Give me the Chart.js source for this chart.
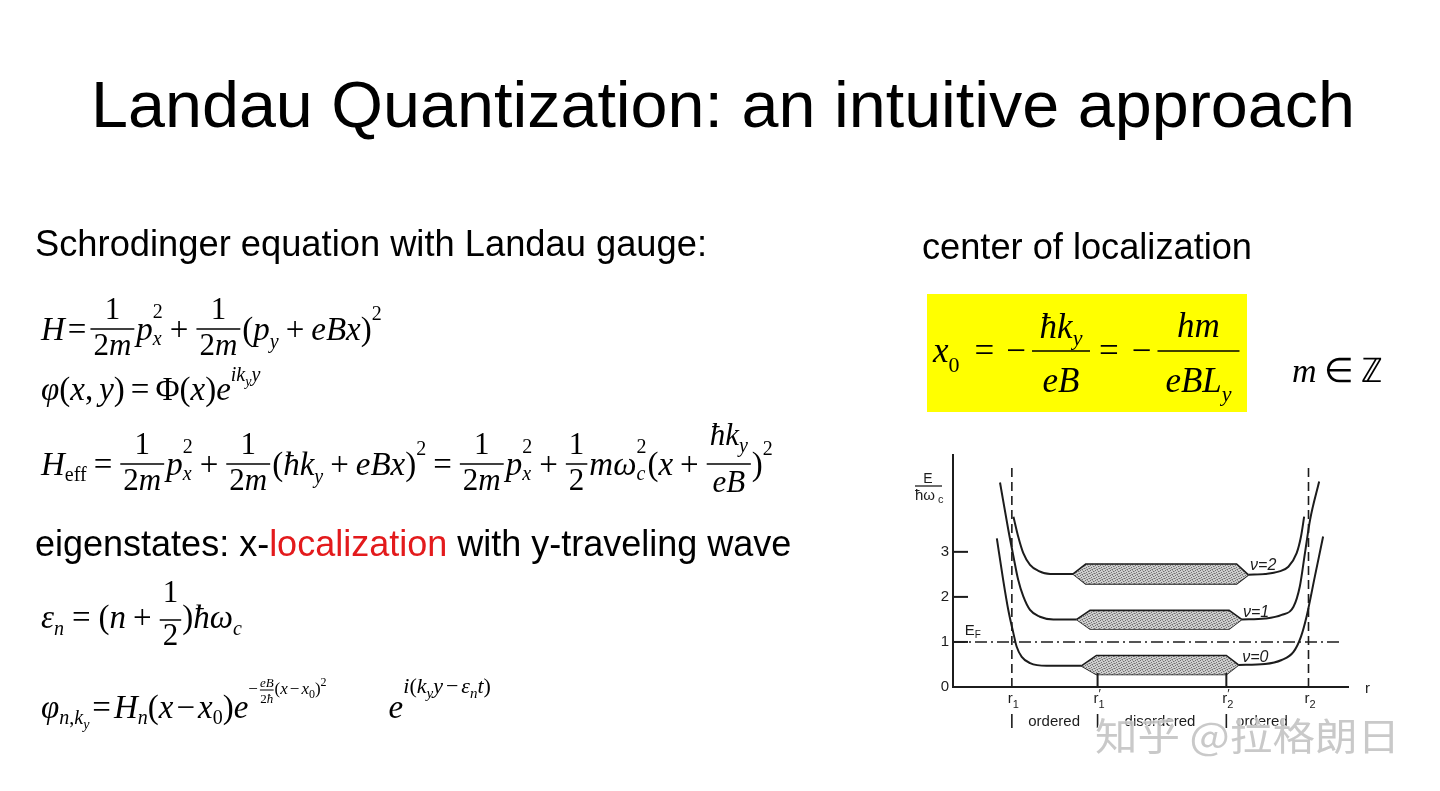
<!DOCTYPE html>
<html><head><meta charset="utf-8">
<script src="https://cdn.jsdelivr.net/npm/chart.js@4.4.1/dist/chart.umd.min.js"></script>
<style>
html,body{margin:0;padding:0;background:#fff;width:1440px;height:791px;overflow:hidden;}
#wrap{position:absolute;left:900px;top:440px;width:500px;height:320px;}
#ov{position:absolute;left:0;top:0;z-index:2;pointer-events:none;}
</style></head><body>
<div id="wrap"><canvas id="c" width="500" height="320"></canvas></div>
<svg id="ov" width="1440" height="791" xmlns="http://www.w3.org/2000/svg"></svg>
<script>
// ---------------- chart data (x in arbitrary r-units 0..100, E in units of hbar*omega_c) ----------------
const yTicks = [0, 1, 2, 3];
const nu0LeftX = [11.1, 12.7, 14.0, 15.3, 16.1, 17.4, 19.5, 23.7, 32.5];
const nu0LeftE = [3.30, 2.38, 1.71, 1.19, 0.90, 0.67, 0.53, 0.47, 0.47];
const nu0RightX = [72.3, 79.0, 83.2, 86.2, 88.1, 89.5, 91.6, 93.7];
const nu0RightE = [0.49, 0.51, 0.60, 0.78, 1.12, 1.56, 2.45, 3.34];
const nu0BandX = [32.5, 36.3, 69.2, 72.3];
const nu0BandTop = [0.47, 0.70, 0.70, 0.49];
const nu0BandBottom = [0.47, 0.28, 0.28, 0.49];

const nu1LeftX = [11.9, 14.0, 15.3, 16.5, 17.8, 19.5, 22.0, 25.4, 31.3];
const nu1LeftE = [4.54, 3.49, 2.90, 2.38, 2.01, 1.71, 1.56, 1.50, 1.50];
const nu1RightX = [73.1, 79.0, 83.2, 86.2, 87.8, 89.1, 90.4, 92.7];
const nu1RightE = [1.50, 1.52, 1.60, 1.78, 2.23, 2.97, 3.71, 4.56];
const nu1BandX = [31.3, 34.7, 69.9, 73.1];
const nu1BandTop = [1.50, 1.70, 1.70, 1.50];
const nu1BandBottom = [1.50, 1.29, 1.29, 1.50];

const nu2LeftX = [15.3, 16.5, 17.8, 19.5, 21.6, 24.6, 30.4];
const nu2LeftE = [3.78, 3.34, 2.97, 2.71, 2.58, 2.51, 2.51];
const nu2RightX = [74.8, 79.0, 82.4, 84.9, 87.0, 88.1, 88.9];
const nu2RightE = [2.49, 2.51, 2.56, 2.67, 2.97, 3.34, 3.78];
const nu2BandX = [30.4, 33.6, 71.8, 74.8];
const nu2BandTop = [2.51, 2.73, 2.73, 2.49];
const nu2BandBottom = [2.51, 2.29, 2.29, 2.49];

const fermiE = 1;
const fermiX = [0, 98.7];
const edgeX = [14.9, 90.0];          // r1, r2 dashed lines
const edgeTopE = 4.93;
const rPos = [14.9, 36.6, 69.2, 90.0];
const rSub = ['1', '1', '2', '2'];
const rPrime = [false, true, true, false];
const nuLabelX = [73.2, 73.4, 75.2];
const nuLabelE = [0.56, 1.56, 2.60];
const nuLabelText = ['ν=0', 'ν=1', 'ν=2'];
const regionX = [25.6, 52.4, 78.2];
const regionText = ['ordered', 'disordered', 'ordered'];

// ---------------- chart ----------------
const INK = '#1c1c1c';
const SANS = '"Liberation Sans", Arial, sans-serif';
const pts = (xs, ys) => xs.map((x, i) => ({x, y: ys[i]}));

function stipple() {
  const n = 5;
  const c = document.createElement('canvas'); c.width = n; c.height = n;
  const g = c.getContext('2d');
  g.fillStyle = '#cfcfcf'; g.fillRect(0, 0, n, n);
  g.fillStyle = '#6e6e6e';
  [[0, 0], [3, 1], [1, 2], [4, 3], [2, 4]].forEach(([a, b]) => g.fillRect(a, b, 1, 1));
  g.fillStyle = '#a4a4a4';
  [[2, 0], [0, 3], [4, 1], [1, 4], [3, 3]].forEach(([a, b]) => g.fillRect(a, b, 1, 1));
  return g.createPattern(c, 'repeat');
}
const pat = stipple();

const curve = (d) => ({data: d, showLine: true, borderColor: INK, borderWidth: 2, pointRadius: 0,
  cubicInterpolationMode: 'monotone', fill: false});
const bandUp = (d) => ({data: d, showLine: true, borderColor: INK, borderWidth: 1.6, pointRadius: 0,
  tension: 0, fill: '+1', backgroundColor: pat});
const bandLo = (d) => ({data: d, showLine: true, borderColor: INK, borderWidth: 1.6, pointRadius: 0,
  tension: 0, fill: false});

const datasets = [
  {data: pts([edgeX[0], edgeX[0]], [0, edgeTopE]), showLine: true, borderColor: INK, borderWidth: 1.6, borderDash: [9, 5], pointRadius: 0, fill: false},
  {data: pts([edgeX[1], edgeX[1]], [0, edgeTopE]), showLine: true, borderColor: INK, borderWidth: 1.6, borderDash: [9, 5], pointRadius: 0, fill: false},
  {data: pts(fermiX, [fermiE, fermiE]), showLine: true, borderColor: INK, borderWidth: 1.6, borderDash: [12, 4, 2, 4], pointRadius: 0, fill: false},
  curve(pts(nu0LeftX, nu0LeftE)), curve(pts(nu0RightX, nu0RightE)),
  curve(pts(nu1LeftX, nu1LeftE)), curve(pts(nu1RightX, nu1RightE)),
  curve(pts(nu2LeftX, nu2LeftE)), curve(pts(nu2RightX, nu2RightE)),
  bandUp(pts(nu0BandX, nu0BandTop)), bandLo(pts(nu0BandX, nu0BandBottom)),
  bandUp(pts(nu1BandX, nu1BandTop)), bandLo(pts(nu1BandX, nu1BandBottom)),
  bandUp(pts(nu2BandX, nu2BandTop)), bandLo(pts(nu2BandX, nu2BandBottom)),
];

const extras = {
  id: 'extras',
  afterDatasetsDraw(chart) {
    const {ctx, chartArea: a, scales: {x, y}} = chart;
    const ln = (x1, y1, x2, y2) => { ctx.beginPath(); ctx.moveTo(x1, y1); ctx.lineTo(x2, y2); ctx.stroke(); };
    ctx.save();
    ctx.strokeStyle = INK; ctx.fillStyle = INK; ctx.lineWidth = 2;
    yTicks.forEach(v => { if (v > 0) { const py = y.getPixelForValue(v); ln(a.left, py, a.left + 15, py); } });
    rPos.forEach((v, k) => { if (rPrime[k]) { const px = x.getPixelForValue(v); ln(px, a.bottom, px, a.bottom - 14); } });
    ctx.lineWidth = 1.6;
    rPos.forEach(v => { const px = x.getPixelForValue(v); if (v < 80) ln(px, a.bottom + 27, px, a.bottom + 41); });
    ctx.textBaseline = 'alphabetic';
    // r labels
    rPos.forEach((v, k) => {
      const px = x.getPixelForValue(v);
      ctx.font = '15px ' + SANS; const rw = ctx.measureText('r').width;
      ctx.fillText('r', px - rw + 1, a.bottom + 16);
      ctx.font = '11px ' + SANS; ctx.fillText(rSub[k], px + 1, a.bottom + 21);
      if (rPrime[k]) { ctx.font = '13px ' + SANS; ctx.fillText('′', px + 1, a.bottom + 11); }
    });
    ctx.font = '15px ' + SANS;
    ctx.fillText('r', a.right + 17, a.bottom + 6);
    // region labels
    ctx.textAlign = 'center';
    regionText.forEach((t, k) => ctx.fillText(t, x.getPixelForValue(regionX[k]), a.bottom + 39));
    // y title E / hbar omega_c
    const cx = a.left - 25;
    ctx.font = '14px ' + SANS; ctx.fillText('E', cx, a.top + 28);
    ctx.lineWidth = 1.3; ln(a.left - 38, a.top + 31, a.left - 11, a.top + 31);
    ctx.textAlign = 'left';
    ctx.font = '15px ' + SANS; ctx.fillText('ħω', a.left - 38, a.top + 45);
    ctx.font = '11px ' + SANS; ctx.fillText('c', a.left - 15, a.top + 48);
    // E_F
    const fx = x.getPixelForValue(3.0), fy = y.getPixelForValue(fermiE);
    ctx.font = '15px ' + SANS; ctx.fillText('E', fx, fy - 7);
    ctx.font = '10px ' + SANS; ctx.fillText('F', fx + 10, fy - 4);
    // nu labels
    ctx.font = 'italic 16px ' + SANS;
    nuLabelText.forEach((t, k) => ctx.fillText(t, x.getPixelForValue(nuLabelX[k]), y.getPixelForValue(nuLabelE[k])));
    ctx.restore();
  }
};

new Chart(document.getElementById('c'), {
  type: 'scatter',
  data: {datasets},
  options: {
    responsive: false, animation: false,
    layout: {padding: {left: 0, right: 52, top: 15, bottom: 0}},
    plugins: {legend: {display: false}, tooltip: {enabled: false}},
    scales: {
      x: {type: 'linear', min: 0, max: 100, ticks: {display: false},
          grid: {display: false, drawTicks: false}, border: {display: true, color: INK, width: 2},
          afterFit: s => { s.height = 73; }},
      y: {type: 'linear', min: 0, max: 5.15,
          ticks: {color: INK, font: {family: 'Liberation Sans', size: 15}, padding: 4},
          grid: {display: false, drawTicks: false}, border: {display: true, color: INK, width: 2},
          afterBuildTicks: s => { s.ticks = yTicks.map(v => ({value: v})); },
          afterFit: s => { s.width = 53; }}
    }
  },
  plugins: [extras]
});

// ---------------- slide text & equations (SVG text) ----------------
const NS = 'http://www.w3.org/2000/svg';
const svg = document.getElementById('ov');
const SERIF = '"Liberation Serif", "Times New Roman", serif';
const mc = document.createElement('canvas').getContext('2d');
function fnt(s, it, fam) { return (it ? 'italic ' : '') + s + 'px ' + fam; }
function measure(t, s, it, fam) { mc.font = fnt(s, it, fam); return mc.measureText(t).width; }
function txt(par, x, y, t, s, opt = {}) {
  const e = document.createElementNS(NS, 'text');
  e.setAttribute('x', x); e.setAttribute('y', y);
  e.setAttribute('font-size', s); e.setAttribute('font-family', opt.fam || SERIF);
  if (opt.it) e.setAttribute('font-style', 'italic');
  e.setAttribute('fill', opt.fill || '#000');
  if (opt.len) { e.setAttribute('textLength', opt.len); e.setAttribute('lengthAdjust', 'spacingAndGlyphs'); }
  e.textContent = t; par.appendChild(e); return e;
}
const M = 33, F = 31, S = 20, T = 14;
const I = (t, s = M) => ({t, i: 1, s});
const R = (t, s = M) => ({t, i: 0, s});
const FR = (n, d, o = {}) => Object.assign({f: 1, n, d, nd: -21, dd: 15, ax: 11, pad: 4, lw: 1.5}, o);
const SB = (g, dy = 7) => ({g, dy});
const SP = (g, dy = -20) => ({g, dy});
const ST = (b, p, bdy = 5, pdy = -22) => ({st: 1, b, p, bdy, pdy});

function lay(par, toks, x, base) {
  for (const k of toks) {
    if (typeof k === 'number') { x += k; continue; }
    if (k.t !== undefined) {
      if (par) txt(par, x, base, k.t, k.s, {it: k.i});
      x += measure(k.t, k.s, k.i, SERIF); continue;
    }
    if (k.g) { x = lay(par, k.g, x, base + k.dy); continue; }
    if (k.st) {
      const wb = lay(null, k.b, 0, 0), wp = lay(null, k.p, 0, 0);
      if (par) { lay(par, k.b, x, base + k.bdy); lay(par, k.p, x, base + k.pdy); }
      x += Math.max(wb, wp); continue;
    }
    if (k.f) {
      const wn = lay(null, k.n, 0, 0), wd = lay(null, k.d, 0, 0);
      const W = k.W || (Math.max(wn, wd) + 2 * k.pad);
      if (par) {
        lay(par, k.n, x + (W - wn) / 2, base + k.nd);
        lay(par, k.d, x + (W - wd) / 2, base + k.dd);
        const l = document.createElementNS(NS, 'line');
        l.setAttribute('x1', x + 1); l.setAttribute('x2', x + W - 1);
        l.setAttribute('y1', base - k.ax); l.setAttribute('y2', base - k.ax);
        l.setAttribute('stroke', '#000'); l.setAttribute('stroke-width', k.lw);
        par.appendChild(l);
      }
      x += W; continue;
    }
  }
  return x;
}
function eq(toks, x, base) { const g = document.createElementNS(NS, 'g'); svg.appendChild(g); lay(g, toks, x, base); return g; }

// Title and prose
txt(svg, 91, 127, 'Landau Quantization: an intuitive approach', 65, {fam: SANS, len: 1264});
txt(svg, 35, 256, 'Schrodinger equation with Landau gauge:', 36, {fam: SANS, len: 672});
txt(svg, 922, 259, 'center of localization', 36, {fam: SANS, len: 330});
{
  const e = txt(svg, 35, 556, '', 36, {fam: SANS});
  [['eigenstates: x-', '#000'], ['localization', '#e31a1c'], [' with y-traveling wave', '#000']].forEach(([s, c]) => {
    const ts = document.createElementNS(NS, 'tspan'); ts.setAttribute('fill', c); ts.textContent = s; e.appendChild(ts);
  });
}

// yellow box
{
  const r = document.createElementNS(NS, 'rect');
  r.setAttribute('x', 927); r.setAttribute('y', 294); r.setAttribute('width', 320); r.setAttribute('height', 118);
  r.setAttribute('fill', '#ffff00'); svg.insertBefore(r, svg.firstChild);
}

const PG = 7;  // gap around +
const half2m = () => FR([R('1', F)], [R('2', F), I('m', F)]);
// Eq1
eq([I('H'), 3, R('='), 3, half2m(), 1, I('p'), ST([I('x', S)], [R('2', S)]), PG, R('+'), PG, half2m(), 1,
    R('('), I('p'), SB([I('y', S)], 8), PG, R('+'), PG, I('eBx'), R(')'), SP([R('2', S)], -20)], 41, 340);
// Eq2
eq([I('φ'), R('('), I('x'), R(','), 6, I('y'), R(')'), 6, R('='), 6, R('Φ'), R('('), I('x'), R(')'), I('e'),
    SP([I('i', S), I('k', S), SB([I('y', T)], 5), I('y', S)], -19)], 41, 400);
// Eq3
eq([I('H'), SB([R('eff', S)], 6), 7, R('='), 7, half2m(), 1, I('p'), ST([I('x', S)], [R('2', S)]), PG, R('+'), PG, half2m(), 1,
    R('('), I('ħ'), I('k'), SB([I('y', S)], 8), PG, R('+'), PG, I('eBx'), R(')'), SP([R('2', S)], -20), 7, R('='), 7,
    half2m(), 1, I('p'), ST([I('x', S)], [R('2', S)]), PG, R('+'), PG, FR([R('1', F)], [R('2', F)]), 1,
    I('m'), I('ω'), ST([I('c', S)], [R('2', S)]), 1, R('('), I('x'), PG, R('+'), PG,
    FR([I('ħ', F), I('k', F), SB([I('y', S)], 7)], [I('eB', F)], {nd: -30, dd: 17}), R(')'), SP([R('2', S)], -20)], 41, 475);
// Eq4
eq([I('ε'), SB([I('n', S)], 7), 8, R('='), 8, R('('), I('n'), PG, R('+'), PG,
    FR([R('1', F)], [R('2', F)], {nd: -26, dd: 17, ax: 8}), R(')'), I('ħ'), I('ω'), SB([I('c', S)], 7)], 41, 628);
// Eq5
eq([I('φ'), SB([I('n', S), R(',', S), I('k', S), SB([I('y', T)], 5)], 6), 3, R('='), 3, I('H'), SB([I('n', S)], 6),
    R('('), I('x'), 3, R('−'), 3, I('x'), SB([R('0', S)], 6), R(')'), I('e'),
    SP([R('−', 17), 1, FR([I('eB', 13)], [R('2', 13), I('ħ', 13)], {nd: -7, dd: 9, ax: 4, pad: 1, lw: 1}),
        R('(', 17), I('x', 17), 2, R('−', 17), 2, I('x', 17), SB([R('0', 12)], 4), R(')', 17), SP([R('2', 12)], -8)], -24),
    62, I('e'),
    SP([I('i', 22), R('(', 22), I('k', 22), SB([I('y', 15)], 5), I('y', 22), 3, R('−', 22), 3, I('ε', 22), SB([I('n', 15)], 5),
        I('t', 22), R(')', 22)], -25)], 41, 718);
// Box equation
eq([I('x', 35), SB([R('0', 22)], 10), 15, R('=', 35), 12, R('−', 35), 5,
    FR([I('ħ', 35), I('k', 35), SB([I('y', 22)], 7)], [I('eB', 35)], {nd: -24, dd: 30, ax: 11, W: 60}), 8,
    R('=', 35), 13, R('−', 35), 5,
    FR([I('hm', 35)], [I('eBL', 35), SB([I('y', 22)], 9)], {nd: -25, dd: 30, ax: 11, W: 84})], 933, 362);
eq([I('m', 34), 7, R('∈', 34), 7, R('ℤ', 34)], 1292, 382);

// watermark
{
  const w = txt(svg, 1095, 750, '知乎 @拉格朗日', 38, {fam: '"Noto Sans CJK SC", sans-serif', fill: '#c4c4c4', len: 305});
  w.setAttribute('stroke', '#ffffff'); w.setAttribute('stroke-width', '1.2'); w.setAttribute('paint-order', 'stroke');
  w.setAttribute('opacity', '0.9');
}
</script>
</body></html>
